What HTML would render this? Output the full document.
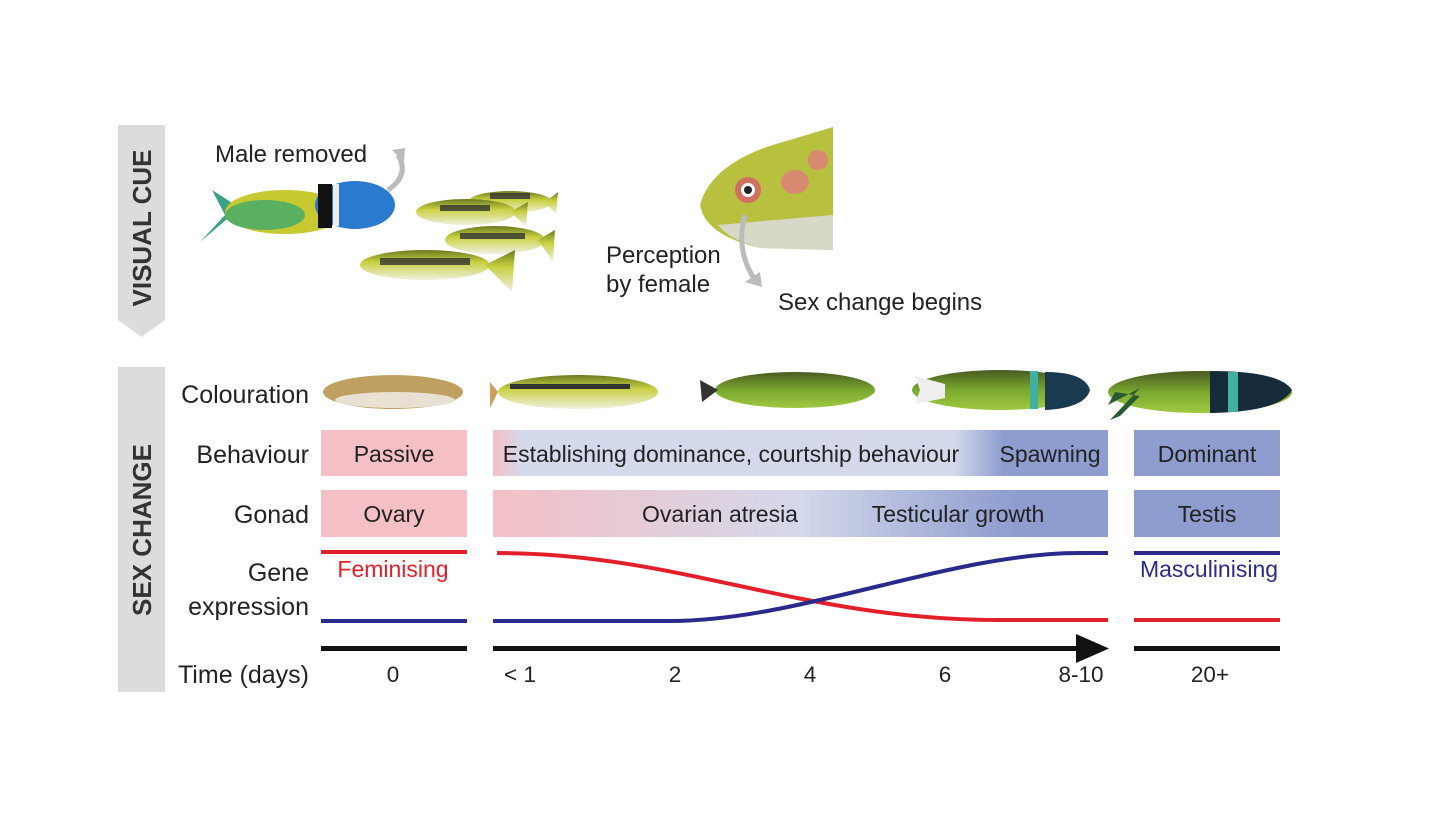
<!DOCTYPE html>
<html><head><meta charset="utf-8"><style>
html,body{margin:0;padding:0;background:#fff;}
body{width:1440px;height:831px;overflow:hidden;position:relative;font-family:"Liberation Sans",sans-serif;}
</style></head><body>
<svg width="1440" height="831" viewBox="0 0 1440 831" xmlns="http://www.w3.org/2000/svg" font-family="Liberation Sans, sans-serif">
<defs>
<linearGradient id="gb" x1="493" x2="1108" y1="0" y2="0" gradientUnits="userSpaceOnUse">
<stop offset="0" stop-color="#f4c0c6"/><stop offset="0.05" stop-color="#d5d9ec"/><stop offset="0.75" stop-color="#d3d8ea"/><stop offset="0.83" stop-color="#8e9ccf"/><stop offset="1" stop-color="#8e9ccf"/>
</linearGradient>
<linearGradient id="gg" x1="493" x2="1108" y1="0" y2="0" gradientUnits="userSpaceOnUse">
<stop offset="0" stop-color="#f4c0c6"/><stop offset="0.05" stop-color="#f1c2c9"/><stop offset="0.5" stop-color="#d4d8ea"/><stop offset="0.85" stop-color="#8e9ccf"/><stop offset="1" stop-color="#8e9ccf"/>
</linearGradient>
<linearGradient id="fy" x1="0" x2="0" y1="0" y2="1"><stop offset="0" stop-color="#6a7a20"/><stop offset="0.4" stop-color="#c8d040"/><stop offset="1" stop-color="#f0f0e0"/></linearGradient>
<linearGradient id="fg" x1="0" x2="0" y1="0" y2="1"><stop offset="0" stop-color="#4a5a20"/><stop offset="0.5" stop-color="#7aa830"/><stop offset="1" stop-color="#a0c840"/></linearGradient>
</defs>
<path d="M118 125 H165 V320 L141.5 337 L118 320 Z" fill="#dcdcdc"/>
<text transform="translate(151 228) rotate(-90)" text-anchor="middle" font-size="26" font-weight="bold" fill="#333">VISUAL CUE</text>
<rect x="118" y="367" width="47" height="325" fill="#dcdcdc"/>
<text transform="translate(151 530) rotate(-90)" text-anchor="middle" font-size="26" font-weight="bold" fill="#333">SEX CHANGE</text>

<g>
<path d="M200 242 L225 215 L212 190 L240 208 Z" fill="#3aa08a"/>
<ellipse cx="285" cy="212" rx="60" ry="22" fill="#c8c830"/>
<ellipse cx="265" cy="215" rx="40" ry="15" fill="#5ab060"/>
<ellipse cx="355" cy="205" rx="40" ry="24" fill="#2a7ad0"/>
<rect x="318" y="184" width="14" height="44" fill="#111"/>
<rect x="333" y="184" width="6" height="42" fill="#eee"/>
</g>
<path d="M388 190 Q410 175 398 155" stroke="#bbb" stroke-width="5" fill="none"/>
<path d="M392 150 L405 148 L404 162 Z" fill="#bbb"/>
<text x="215" y="162" font-size="24" fill="#222">Male removed</text>
<g fill="url(#fy)">
<ellipse cx="510" cy="202" rx="42" ry="11"/><path d="M545 202 L558 192 L556 214 Z"/>
<ellipse cx="466" cy="212" rx="50" ry="13"/><path d="M510 212 L528 202 L526 226 Z"/>
<ellipse cx="495" cy="240" rx="50" ry="14"/><path d="M538 240 L555 230 L553 262 Z"/>
<ellipse cx="425" cy="265" rx="65" ry="15"/><path d="M485 265 L515 250 L512 292 Z"/>
</g>
<g fill="#333" opacity="0.8">
<rect x="440" y="205" width="50" height="6"/><rect x="490" y="193" width="40" height="6"/><rect x="460" y="233" width="65" height="6"/><rect x="380" y="258" width="90" height="7"/>
</g>
<path d="M833 127 L833 250 L760 248 Q705 235 700 205 Q712 160 790 140 Z" fill="#b8c040"/>
<path d="M833 215 L833 250 L760 248 Q730 240 718 225 Z" fill="#d8d8c8"/>
<ellipse cx="795" cy="182" rx="14" ry="12" fill="#d88a70"/><ellipse cx="818" cy="160" rx="10" ry="10" fill="#d88a70"/>
<circle cx="748" cy="190" r="13" fill="#d07060"/><circle cx="748" cy="190" r="7" fill="#fff"/><circle cx="748" cy="190" r="4" fill="#222"/>
<path d="M745 215 Q735 250 755 280" stroke="#bbb" stroke-width="5" fill="none"/>
<path d="M745 282 L762 287 L760 272 Z" fill="#bbb"/>
<text x="606" y="263" font-size="24" fill="#222">Perception</text>
<text x="606" y="292" font-size="24" fill="#222">by female</text>
<text x="778" y="310" font-size="24" fill="#222">Sex change begins</text>

<g font-size="25" fill="#222" text-anchor="end">
<text x="309" y="403">Colouration</text>
<text x="309" y="463">Behaviour</text>
<text x="309" y="523">Gonad</text>
<text x="309" y="581">Gene</text>
<text x="309" y="615">expression</text>
<text x="309" y="683">Time (days)</text>
</g>

<ellipse cx="393" cy="392" rx="70" ry="17" fill="#c0a060"/><ellipse cx="395" cy="400" rx="60" ry="8" fill="#e8e0d0"/>
<ellipse cx="578" cy="392" rx="80" ry="17" fill="url(#fy)"/><rect x="510" y="384" width="120" height="5" fill="#333"/><path d="M498 392 L490 382 L490 408 Z" fill="#d0a060"/>
<ellipse cx="795" cy="390" rx="80" ry="18" fill="url(#fg)"/><path d="M718 390 L700 380 L702 402 Z" fill="#333"/>
<ellipse cx="1000" cy="390" rx="88" ry="20" fill="url(#fg)"/><path d="M1045 372 Q1085 372 1090 390 Q1085 408 1045 410 Z" fill="#1a3a50"/><rect x="1030" y="371" width="8" height="38" fill="#40b0a0"/><path d="M920 390 L915 376 L945 384 L945 398 L915 404 Z" fill="#eee"/>
<ellipse cx="1200" cy="392" rx="92" ry="21" fill="url(#fg)"/><path d="M1210 371 Q1280 371 1292 390 Q1280 412 1210 413 Z" fill="#152a3a"/><rect x="1228" y="372" width="10" height="40" fill="#40b0a0"/><path d="M1115 392 L1108 405 L1140 388 L1110 420 L1120 416 L1140 396 Z" fill="#2a5a30"/>

<rect x="321" y="430" width="146" height="46" fill="#f4c0c6"/>
<rect x="493" y="430" width="615" height="46" fill="url(#gb)"/>
<rect x="1134" y="430" width="146" height="46" fill="#8e9ccf"/>
<g font-size="23" fill="#222" text-anchor="middle">
<text x="731" y="462">Establishing dominance, courtship behaviour</text>
<text x="1050" y="462">Spawning</text>
<text x="394" y="462">Passive</text>
<text x="1207" y="462">Dominant</text>
</g>
<rect x="321" y="490" width="146" height="47" fill="#f4c0c6"/>
<rect x="493" y="490" width="615" height="47" fill="url(#gg)"/>
<rect x="1134" y="490" width="146" height="47" fill="#8e9ccf"/>
<g font-size="23" fill="#222" text-anchor="middle">
<text x="394" y="522">Ovary</text>
<text x="720" y="522">Ovarian atresia</text>
<text x="958" y="522">Testicular growth</text>
<text x="1207" y="522">Testis</text>
</g>
<g stroke-width="4" fill="none">
<line x1="321" y1="552" x2="467" y2="552" stroke="#e3202a"/>
<line x1="321" y1="621" x2="467" y2="621" stroke="#2a2a8a"/>
<path d="M497 553 C680 553 800 620 1000 620 L1108 620" stroke="#e3202a"/>
<path d="M493 621 L670 621 C800 621 950 553 1080 553 L1108 553" stroke="#2a2a8a"/>
<line x1="1134" y1="553" x2="1280" y2="553" stroke="#2a2a8a"/>
<line x1="1134" y1="620" x2="1280" y2="620" stroke="#e3202a"/>
</g>
<text x="393" y="577" font-size="23" fill="#e3202a" text-anchor="middle">Feminising</text>
<text x="1209" y="577" font-size="23" fill="#2a2a8a" text-anchor="middle">Masculinising</text>
<rect x="321" y="646" width="146" height="5" fill="#111"/>
<rect x="493" y="646" width="590" height="5" fill="#111"/>
<path d="M1076 634 L1109 648.5 L1076 663 Z" fill="#111"/>
<rect x="1134" y="646" width="146" height="5" fill="#111"/>
<g font-size="22.5" fill="#222" text-anchor="middle">
<text x="393" y="682">0</text>
<text x="520" y="682">&lt; 1</text>
<text x="675" y="682">2</text>
<text x="810" y="682">4</text>
<text x="945" y="682">6</text>
<text x="1081" y="682">8-10</text>
<text x="1210" y="682">20+</text>
</g>
</svg>
</body></html>
